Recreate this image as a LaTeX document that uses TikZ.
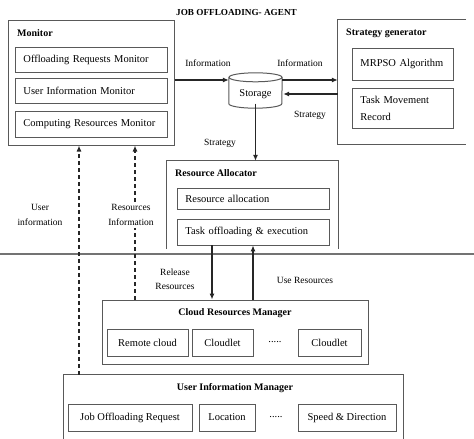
\documentclass[tikz,border=0pt]{standalone}
\usepackage{fontspec}
\setmainfont{Liberation Serif}
\usetikzlibrary{arrows.meta}
\definecolor{lc}{gray}{0.35}
\tikzset{
  every node/.style={font=\fontsize{10.5}{12.5}\selectfont, inner sep=0pt},
  ibox/.style={draw=lc, line width=0.85pt},
  lbox/.style={ibox, align=left, inner xsep=8pt, anchor=west},
  cbox/.style={ibox, align=center},
  head/.style={font=\fontsize{10}{12}\selectfont\bfseries},
  lab/.style={font=\fontsize{9.5}{12}\selectfont, align=center},
  frame/.style={draw=lc, line width=1pt},
  arr/.style={-{Latex[length=6pt,width=5pt]}, line width=1.1pt, draw=black!85},
  darr/.style={-{Latex[length=6pt,width=5pt]}, line width=1.1pt, draw=black!85, dash pattern=on 4pt off 3pt},
}
\begin{document}
\begin{tikzpicture}[x=1pt,y=-1pt]
\useasboundingbox (0,0) rectangle (474,439);
% title
\node[font=\fontsize{9.2}{11}\selectfont\bfseries] (title) at (236.5,12) {JOB OFFLOADING- AGENT};

% Monitor
\node[frame, minimum width=166pt, minimum height=125pt] (monitor) at (91,82.5) {};
\node[head, anchor=west] (monlbl) at (17,33) {Monitor};
\node[lbox, minimum height=25pt, text width=136pt] (m1) at (15,60) {Offloading Requests Monitor};
\node[lbox, minimum height=25pt, text width=136pt] (m2) at (15,91) {User Information Monitor};
\node[lbox, minimum height=26pt, text width=136pt] (m3) at (15,124) {Computing Resources Monitor};

% Storage
\node[minimum width=53pt, minimum height=35pt] (storage) at (255.5,90.5) {};
\draw[frame, fill=white] ([yshift=-4.5pt]storage.north west) -- ([yshift=4.5pt]storage.south west)
   arc[start angle=180, end angle=360, x radius=26.5pt, y radius=4.5pt] -- ([yshift=-4.5pt]storage.north east);
\draw[frame] ([yshift=-4.5pt]storage.north) ellipse [x radius=26.5pt, y radius=4.5pt];
\node (storlbl) at (255.5,94) {Storage};

% Strategy generator
\node[minimum width=128pt, minimum height=124pt] (sg) at (402,82) {};
\draw[frame] (sg.north east) -- (sg.north west) -- (sg.south west) -- (sg.south east);
\node[head, anchor=west] (sglbl) at (346,33) {Strategy generator};
\node[lbox, minimum height=32pt, text width=85pt] (sg1) at (352,64) {MRPSO Algorithm};
\node[lbox, minimum height=40pt, text width=85pt, align=left, font=\fontsize{10.5}{17}\selectfont] (sg2) at (352,108) {Task Movement\\Record};

% Resource Allocator
\node[minimum width=171pt, minimum height=88pt] (ra) at (252.5,205) {};
\draw[frame] (ra.south west) -- (ra.north west) -- (ra.north east) -- (ra.south east);
\node[head, anchor=west] (ralbl) at (175,173) {Resource Allocator};
\node[lbox, minimum height=21pt, text width=136pt] (ra1) at (177,198.5) {Resource allocation};
\node[lbox, minimum height=26pt, text width=136pt] (ra2) at (177,232) {Task offloading \& execution};

% divider
\coordinate (dl) at (0,254);
\coordinate (dr) at (474,254);
\draw[draw=black!55, line width=1.6pt] (dl) -- (dr);

% Cloud Resources Manager
\node[frame, minimum width=266pt, minimum height=64pt] (crm) at (235,332) {};
\node[head] (crmlbl) at (235,313) {Cloud Resources Manager};
\node[cbox, minimum width=81pt, minimum height=27pt] (c1) at (147.5,342.5) {Remote cloud};
\node[cbox, minimum width=61pt, minimum height=27pt] (c2) at (222.5,342.5) {Cloudlet};
\node (cdots) at (275,342) {.....};
\node[cbox, minimum width=63pt, minimum height=27pt] (c3) at (329.5,342.5) {Cloudlet};

% User Information Manager
\node[minimum width=339pt, minimum height=70pt] (uim) at (233.5,410) {};
\draw[frame] (uim.south west) -- (uim.north west) -- (uim.north east) -- (uim.south east);
\node[head] (uimlbl) at (235,388) {User Information Manager};
\node[cbox, minimum width=124pt, minimum height=27pt] (u1) at (130,417.5) {Job Offloading Request};
\node[cbox, minimum width=56pt, minimum height=27pt] (u2) at (227,417.5) {Location};
\node (udots) at (276,417) {.....};
\node[cbox, minimum width=98pt, minimum height=27pt] (u3) at (347,417.5) {Speed \& Direction};

% connectors
\coordinate (yinfo) at (0,80);
\coordinate (ystrat) at (0,94);
\draw[arr] (monitor.east |- yinfo) -- (storage.west |- yinfo);
\draw[arr] (storage.east |- yinfo) -- (sg.west |- yinfo);
\draw[arr] (sg.west |- ystrat) -- ([xshift=1pt]storage.east |- ystrat);
\draw[arr] ([yshift=4.5pt]storage.south) -- (ra.north -| storage.south);
\node[lab] (l1) at (208,63) {Information};
\node[lab] (l2) at (300,63) {Information};
\node[lab] (l3) at (310,115) {Strategy};
\node[lab] (l4) at (220,143) {Strategy};

\coordinate (xrel) at (212,0);
\coordinate (xuse) at (253,0);
\draw[arr] (ra2.south -| xrel) -- (crm.north -| xrel);
\draw[arr] (crm.north -| xuse) -- (ra2.south -| xuse);
\node[lab, font=\fontsize{9.5}{14.5}\selectfont] (l5) at (175,279) {Release\\Resources};
\node[lab] (l6) at (305,280) {Use Resources};

\coordinate (xui) at (79,0);
\coordinate (xri) at (135,0);
\draw[darr] (uim.north -| xui) -- (monitor.south -| xui);
\draw[darr] (crm.north -| xri) -- (monitor.south -| xri);
\node[lab, font=\fontsize{9.5}{14.5}\selectfont] (l7) at (40,215) {User\\information};
\node[lab, font=\fontsize{9.5}{14.5}\selectfont, fill=white, inner ysep=3pt] (l8) at (131,215) {Resources\\Information};
\end{tikzpicture}
\end{document}
